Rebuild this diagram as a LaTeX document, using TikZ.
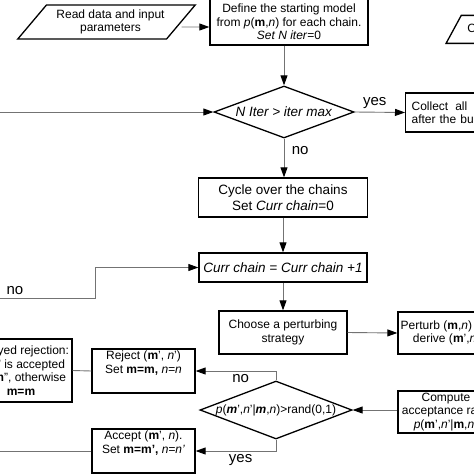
\documentclass[tikz,border=0pt]{standalone}
\usepackage{fontspec}
\setmainfont{Liberation Sans}
\usepackage{tikz}
\usetikzlibrary{shapes.geometric}
\usetikzlibrary{arrows.meta}

\begin{document}
\begin{tikzpicture}[x=1pt,y=-1pt,
  box/.style={draw,line width=1.3pt,inner sep=2pt,align=center,font=\fontsize{12}{13.5}\selectfont},
  bigbox/.style={box,font=\fontsize{13.5}{16}\selectfont},
  para/.style={box,trapezium,trapezium left angle=45,trapezium right angle=135,trapezium stretches body},
  test/.style={box,diamond,inner sep=0pt},
  arr/.style={draw=black!55,line width=0.9pt,-{Triangle[black,length=10pt,width=7pt]}},
  line/.style={draw=black!55,line width=0.9pt},
  lbl/.style={font=\fontsize{15}{15}\selectfont}]
  \useasboundingbox (0,0) rectangle (474,474);
  \clip (0,0) rectangle (474,474);

  \node[para,minimum width=159,minimum height=34] (read) at (106.5,22) {\hspace*{8pt}Read data and input\\\hspace*{8pt}parameters};
  \node[para,anchor=bottom left corner,minimum height=28] (post) at (445,44) {\hspace*{4pt}Compute the posterior};
  \node[box,minimum width=158,minimum height=46] (define) at (289,22) {Define the starting model\\from \textit{p}(\textbf{m},\textit{n}) for each chain.\\\textit{Set N iter}=0};
  \node[test,font=\fontsize{13.5}{16}\selectfont,aspect=2.69,minimum width=140,minimum height=52] (iter) at (284,112) {\textit{N Iter > iter max}};
  \node[box,anchor=west,minimum height=39,text width=150,inner xsep=6pt,align=left] (collect) at (405,112.5) {Collect\hspace{7pt}all\hspace{9pt}models\\after the burn-in};
  \node[bigbox,minimum width=169,minimum height=39] (cycle) at (283,197.5) {Cycle over the chains\\Set \textit{Curr chain}=0};
  \node[bigbox,minimum width=168,minimum height=29] (curr) at (283,267.5) {\textit{Curr chain = Curr chain +1}};
  \node[box,minimum width=128,minimum height=43] (choose) at (283,332.5) {Choose a perturbing\\strategy};
  \node[box,minimum width=100,minimum height=42] (perturb) at (448,333) {Perturb (\textbf{m},\textit{n}) and\\derive (\textbf{m}',\textit{n}')};
  \node[box,minimum width=96,minimum height=42] (compute) at (446,412) {Compute\\acceptance ratio\\\textit{p}(\textbf{m}',\textit{n}'|\textbf{m},\textit{n})};
  \node[test,aspect=2.62,minimum width=152,minimum height=58] (acc) at (276,410) {\textit{p}(\textbf{\textit{m}}',\textit{n}'|\textbf{\textit{m}},\textit{n})>rand(0,1)};
  \node[box,minimum width=103,minimum height=44] (reject) at (143.5,371) {Reject (\textbf{m}', \textit{n}')\\Set \textbf{m=m,} \textit{n=n}\\\strut};
  \node[box,minimum width=103,minimum height=44] (accept) at (143.5,451) {Accept (\textbf{m}', \textit{n}).\\Set \textbf{m=m',} \textit{n=n'}\\\strut};
  \node[box,minimum width=102,minimum height=63] (delay) at (21,370.5) {Delayed rejection:\\if \textbf{m}'' is accepted\\\textbf{m=m}'', otherwise\\\textbf{m=m}};

  \coordinate (inL)  at (-5,112);
  \coordinate (noL)  at (-5,298);
  \coordinate (outL) at (-5,451);

  \draw[arr] ([yshift=-5pt]read.east) -- ([yshift=-5pt]define.west);
  \draw[arr] (define.south -| iter.north) -- (iter.north);
  \draw[arr] (inL) -- (iter.west);
  \draw[arr] (iter.east) -- node[lbl,above,pos=0.4] {yes} (collect.west);
  \draw[arr] (iter.south) -- node[lbl,right=4pt,pos=0.3] {no} (iter.south |- cycle.north);
  \draw[arr] (cycle.south) -- (curr.north);
  \draw[arr] (noL) -- node[lbl,above,pos=0.2] {no} ++(100,0) |- (curr.west);
  \draw[arr] (curr.south) -- (choose.north);
  \draw[arr] (choose.east) -- (perturb.west);
  \draw[arr] (compute.west |- acc.east) -- (acc.east);
  \draw[arr] (acc.north) |- node[lbl,below,pos=0.72] {no} (reject.east);
  \draw[arr] (acc.south) |- node[lbl,below,pos=0.72] {yes} (accept.east);
  \draw[line] (reject.west) -- (delay.east);
  \draw[line] (accept.west) -- (outL);
\end{tikzpicture}
\end{document}
